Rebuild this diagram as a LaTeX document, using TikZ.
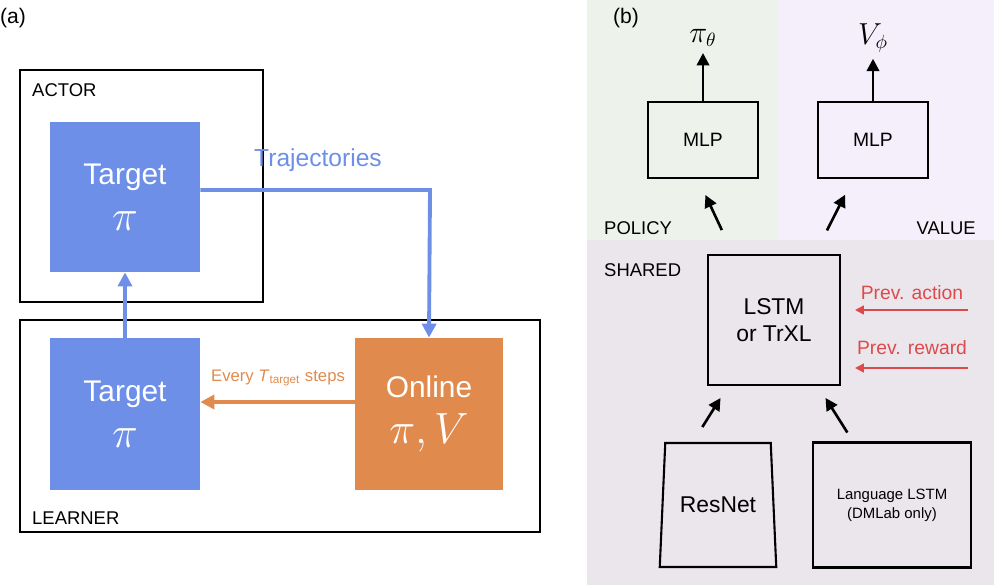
\documentclass[tikz,border=0pt]{standalone}
\usepackage{fontspec}
\setmainfont{Liberation Sans}
\usetikzlibrary{arrows.meta,shapes.geometric}
\definecolor{tblue}{HTML}{6D8FE8}
\definecolor{torange}{HTML}{E08A4E}
\definecolor{tred}{HTML}{DC4B4B}
\definecolor{bgpol}{HTML}{EDF3EA}
\definecolor{bgval}{HTML}{F4EFFA}
\definecolor{bgsh}{HTML}{EBE6EB}
\begin{document}
\begin{tikzpicture}[x=0.02cm,y=-0.02cm,
  frame/.style={draw=black, line width=0.9pt},
  block/.style={draw=black, line width=1.2pt, fill=none, inner sep=0pt, font=\fontsize{11}{13}\selectfont, align=center},
  net/.style={inner sep=0pt, text=white, align=center, font=\fontsize{17}{20}\selectfont},
  tag/.style={anchor=west, font=\fontsize{10.5}{12}\selectfont},
  arr/.style={-{Triangle[length=8pt,width=8pt]}, line width=2.2pt},
  karr/.style={-{Triangle[length=7pt,width=7pt]}, line width=1.5pt}
]
\useasboundingbox (0,0) rectangle (994,585);

% ---- (a)
\node[font=\fontsize{12}{14}\selectfont] (la) at (13,18) {(a)};
\draw[frame] (20,70) rectangle (263,302);
\node[tag] (actor) at (26,90) {ACTOR};
\draw[frame] (20,320) rectangle (540,532);
\node[tag] (learner) at (26,518) {LEARNER};

\node[net, fill=tblue, minimum width=150*0.02cm, minimum height=150*0.02cm] (t1) at (125,197) {Target\\[6pt]\fontsize{26}{26}\selectfont$\pi$};
\node[net, fill=tblue, minimum width=150*0.02cm, minimum height=152*0.02cm] (t2) at (125,414) {Target\\[6pt]\fontsize{26}{26}\selectfont$\pi$};
\node[net, fill=torange, minimum width=148*0.02cm, minimum height=152*0.02cm] (on) at (429,414) {Online\\[6pt]\fontsize{26}{26}\selectfont$\pi,V$};

\draw[arr, tblue] (t2) -- (t1);
\coordinate (corner) at (430,190);
\draw[arr, tblue] (t1.east |- corner) -- (corner) -- (on.north);
\node[text=tblue, font=\fontsize{14}{16}\selectfont] (traj) at (318,160) {Trajectories};
\draw[arr, torange] (on.west |- 0,402) -- (t2.east |- 0,402);
\node[text=torange, font=\fontsize{9.5}{11}\selectfont] (every) at (278,378) {Every \textit{T}\textsubscript{target} steps};

% ---- (b)
\fill[bgpol] (587,0) rectangle (778,240);
\fill[bgval] (778,0) rectangle (994,240);
\fill[bgsh] (587,240) rectangle (994,585);
\node[font=\fontsize{12}{14}\selectfont] (lb) at (626,18) {(b)};

\node[font=\fontsize{16}{18}\selectfont] (pi) at (703,38) {$\pi_\theta$};
\node[font=\fontsize{16}{18}\selectfont] (v) at (873,38) {$V_\phi$};
\node[block, minimum width=110*0.02cm, minimum height=76*0.02cm] (mlp1) at (703,140) {MLP};
\node[block, minimum width=110*0.02cm, minimum height=76*0.02cm] (mlp2) at (873,140) {MLP};
\draw[karr] (mlp1) -- (pi);
\draw[karr] (mlp2) -- (v);

\node[tag] (pol) at (598,228) {POLICY};
\node[tag, anchor=east] (val) at (982,228) {VALUE};
\node[tag] (sh) at (598,270) {SHARED};

\node[block, minimum width=132*0.02cm, minimum height=130*0.02cm, font=\fontsize{13}{15}\selectfont] (lstm) at (774,320) {LSTM\\or TrXL};
\draw[karr, shorten <=15pt, shorten >=10pt] (lstm.north -| 733,0) -- (mlp1.south -| 698,0);
\draw[karr, shorten <=15pt, shorten >=10pt] (lstm.north -| 815,0) -- (mlp2.south -| 853,0);

\node[text=tred, font=\fontsize{11}{13}\selectfont] (pa) at (912,293) {Prev. action};
\node[text=tred, font=\fontsize{11}{13}\selectfont] (pr) at (912,348) {Prev. reward};
\coordinate (pa0) at (968,310);
\coordinate (pr0) at (968,368);
\draw[-{Triangle[length=5pt,width=5pt]}, tred, line width=1pt] (pa0) -- (855,310);
\draw[-{Triangle[length=5pt,width=5pt]}, tred, line width=1pt] (pr0) -- (855,368);

\node[draw=black, line width=1.2pt, trapezium, trapezium angle=76, trapezium stretches=true,
  minimum width=117*0.02cm, minimum height=124*0.02cm, inner sep=0pt,
  font=\fontsize{13}{15}\selectfont] (res) at (718,505) {ResNet};
\node[block, minimum width=158*0.02cm, minimum height=125*0.02cm, font=\fontsize{8.5}{11}\selectfont] (lang) at (892,505) {Language LSTM\\(DMLab only)};
\draw[karr, shorten <=10pt, shorten >=8pt] (res.north -| 693,0) -- (lstm.south -| 728,0);
\draw[karr, shorten <=6pt, shorten >=8pt] (lang.north -| 853,0) -- (lstm.south -| 818,0);
\end{tikzpicture}
\end{document}
